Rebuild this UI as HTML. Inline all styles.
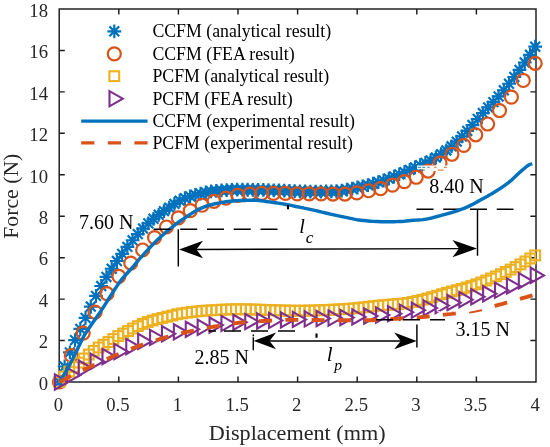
<!DOCTYPE html>
<html lang="en"><head><meta charset="utf-8"><title>Force-displacement curves</title>
<style>html,body{margin:0;padding:0;background:#fff}svg{display:block}</style></head>
<body>
<svg width="550" height="447" viewBox="0 0 550 447">
<rect width="550" height="447" fill="#fff"/>
<defs>
<g id="ast" stroke="#0072BD" stroke-width="2.2" fill="none"><path d="M-6.9 0H6.9M0 -6.9V6.9M-4.9 -4.9L4.9 4.9M-4.9 4.9L4.9 -4.9"/></g>
<circle id="cir" r="6.5" stroke="#D95319" stroke-width="2.2" fill="none"/>
<rect id="sqr" x="-4.9" y="-4.9" width="9.8" height="9.8" stroke="#EDB120" stroke-width="2.1" fill="none"/>
<path id="tri" d="M-4.5 -7.6L8.8 0L-4.5 7.6Z" stroke="#7E2F8E" stroke-width="2.1" fill="none" stroke-linejoin="miter"/>
</defs>
<g stroke="#1c1c1c" stroke-width="1.45" fill="none">
<rect x="59.2" y="9.0" width="476.80" height="373.00"/>
<path d="M118.80 382.0v-5.6M118.80 9.0v5.6M178.40 382.0v-5.6M178.40 9.0v5.6M238.00 382.0v-5.6M238.00 9.0v5.6M297.60 382.0v-5.6M297.60 9.0v5.6M357.20 382.0v-5.6M357.20 9.0v5.6M416.80 382.0v-5.6M416.80 9.0v5.6M476.40 382.0v-5.6M476.40 9.0v5.6M59.2 340.56h5.6M536.0 340.56h-5.6M59.2 299.11h5.6M536.0 299.11h-5.6M59.2 257.67h5.6M536.0 257.67h-5.6M59.2 216.22h5.6M536.0 216.22h-5.6M59.2 174.78h5.6M536.0 174.78h-5.6M59.2 133.33h5.6M536.0 133.33h-5.6M59.2 91.89h5.6M536.0 91.89h-5.6M59.2 50.44h5.6M536.0 50.44h-5.6"/>
</g>
<g><use href="#ast" x="59.40" y="382.00"/><use href="#ast" x="64.63" y="366.51"/><use href="#ast" x="69.86" y="352.43"/><use href="#ast" x="75.09" y="340.06"/><use href="#ast" x="80.31" y="328.96"/><use href="#ast" x="85.54" y="317.93"/><use href="#ast" x="90.77" y="306.55"/><use href="#ast" x="96.00" y="295.87"/><use href="#ast" x="101.23" y="286.01"/><use href="#ast" x="106.46" y="276.96"/><use href="#ast" x="111.69" y="268.75"/><use href="#ast" x="116.91" y="261.02"/><use href="#ast" x="122.14" y="253.81"/><use href="#ast" x="127.37" y="246.85"/><use href="#ast" x="132.60" y="240.26"/><use href="#ast" x="137.83" y="234.14"/><use href="#ast" x="143.06" y="228.55"/><use href="#ast" x="148.29" y="223.40"/><use href="#ast" x="153.51" y="218.80"/><use href="#ast" x="158.74" y="214.78"/><use href="#ast" x="163.97" y="211.14"/><use href="#ast" x="169.20" y="207.61"/><use href="#ast" x="174.43" y="203.90"/><use href="#ast" x="179.66" y="200.56"/><use href="#ast" x="184.89" y="198.24"/><use href="#ast" x="190.11" y="196.42"/><use href="#ast" x="195.34" y="194.89"/><use href="#ast" x="200.57" y="193.60"/><use href="#ast" x="205.80" y="192.46"/><use href="#ast" x="211.03" y="191.45"/><use href="#ast" x="216.26" y="190.83"/><use href="#ast" x="221.49" y="190.40"/><use href="#ast" x="226.71" y="190.05"/><use href="#ast" x="231.94" y="189.80"/><use href="#ast" x="237.17" y="189.70"/><use href="#ast" x="242.40" y="189.71"/><use href="#ast" x="247.63" y="189.74"/><use href="#ast" x="252.86" y="189.79"/><use href="#ast" x="258.09" y="189.86"/><use href="#ast" x="263.31" y="189.93"/><use href="#ast" x="268.54" y="190.08"/><use href="#ast" x="273.77" y="190.28"/><use href="#ast" x="279.00" y="190.48"/><use href="#ast" x="284.23" y="190.67"/><use href="#ast" x="289.46" y="190.88"/><use href="#ast" x="294.69" y="191.10"/><use href="#ast" x="299.91" y="191.30"/><use href="#ast" x="305.14" y="191.46"/><use href="#ast" x="310.37" y="191.55"/><use href="#ast" x="315.60" y="191.56"/><use href="#ast" x="320.83" y="191.53"/><use href="#ast" x="326.06" y="191.48"/><use href="#ast" x="331.29" y="191.41"/><use href="#ast" x="336.51" y="191.25"/><use href="#ast" x="341.74" y="190.66"/><use href="#ast" x="346.97" y="189.71"/><use href="#ast" x="352.20" y="188.59"/><use href="#ast" x="357.43" y="187.49"/><use href="#ast" x="362.66" y="186.36"/><use href="#ast" x="367.89" y="185.10"/><use href="#ast" x="373.11" y="183.70"/><use href="#ast" x="378.34" y="182.19"/><use href="#ast" x="383.57" y="180.49"/><use href="#ast" x="388.80" y="178.59"/><use href="#ast" x="394.03" y="176.55"/><use href="#ast" x="399.26" y="174.44"/><use href="#ast" x="404.49" y="172.23"/><use href="#ast" x="409.71" y="169.87"/><use href="#ast" x="414.94" y="167.46"/><use href="#ast" x="420.17" y="165.09"/><use href="#ast" x="425.40" y="162.92"/><use href="#ast" x="430.63" y="160.48"/><use href="#ast" x="435.86" y="157.51"/><use href="#ast" x="441.09" y="154.19"/><use href="#ast" x="446.31" y="150.47"/><use href="#ast" x="451.54" y="146.30"/><use href="#ast" x="456.77" y="141.62"/><use href="#ast" x="462.00" y="136.45"/><use href="#ast" x="467.23" y="130.96"/><use href="#ast" x="472.46" y="125.05"/><use href="#ast" x="477.69" y="118.98"/><use href="#ast" x="482.91" y="113.03"/><use href="#ast" x="488.14" y="107.47"/><use href="#ast" x="493.37" y="102.12"/><use href="#ast" x="498.60" y="96.47"/><use href="#ast" x="503.83" y="90.26"/><use href="#ast" x="509.06" y="83.77"/><use href="#ast" x="514.29" y="76.99"/><use href="#ast" x="519.51" y="69.91"/><use href="#ast" x="524.74" y="62.52"/><use href="#ast" x="529.97" y="54.79"/><use href="#ast" x="535.20" y="46.71"/></g>
<g><use href="#cir" x="59.40" y="382.00"/><use href="#cir" x="71.30" y="355.48"/><use href="#cir" x="83.19" y="333.10"/><use href="#cir" x="95.09" y="312.17"/><use href="#cir" x="106.98" y="293.72"/><use href="#cir" x="118.88" y="276.32"/><use href="#cir" x="130.77" y="263.05"/><use href="#cir" x="142.67" y="250.00"/><use href="#cir" x="154.56" y="237.57"/><use href="#cir" x="166.46" y="227.00"/><use href="#cir" x="178.35" y="217.88"/><use href="#cir" x="190.25" y="210.63"/><use href="#cir" x="202.14" y="205.24"/><use href="#cir" x="214.04" y="201.30"/><use href="#cir" x="225.93" y="198.19"/><use href="#cir" x="237.83" y="195.29"/><use href="#cir" x="249.72" y="194.05"/><use href="#cir" x="261.62" y="193.43"/><use href="#cir" x="273.51" y="193.43"/><use href="#cir" x="285.41" y="193.43"/><use href="#cir" x="297.30" y="193.84"/><use href="#cir" x="309.20" y="193.84"/><use href="#cir" x="321.09" y="193.84"/><use href="#cir" x="332.99" y="194.05"/><use href="#cir" x="344.88" y="194.05"/><use href="#cir" x="356.78" y="192.81"/><use href="#cir" x="368.67" y="190.73"/><use href="#cir" x="380.57" y="188.66"/><use href="#cir" x="392.46" y="185.14"/><use href="#cir" x="404.36" y="181.62"/><use href="#cir" x="416.25" y="177.26"/><use href="#cir" x="428.15" y="171.05"/><use href="#cir" x="440.04" y="163.17"/><use href="#cir" x="451.94" y="154.26"/><use href="#cir" x="463.83" y="145.35"/><use href="#cir" x="475.73" y="134.78"/><use href="#cir" x="487.62" y="124.01"/><use href="#cir" x="499.52" y="110.54"/><use href="#cir" x="511.41" y="97.07"/><use href="#cir" x="523.31" y="80.49"/><use href="#cir" x="535.20" y="63.29"/></g>
<g><use href="#sqr" x="59.40" y="382.00"/><use href="#sqr" x="64.31" y="376.63"/><use href="#sqr" x="69.21" y="371.59"/><use href="#sqr" x="74.12" y="366.94"/><use href="#sqr" x="79.02" y="362.61"/><use href="#sqr" x="83.93" y="358.47"/><use href="#sqr" x="88.83" y="354.52"/><use href="#sqr" x="93.74" y="350.81"/><use href="#sqr" x="98.64" y="347.46"/><use href="#sqr" x="103.55" y="344.72"/><use href="#sqr" x="108.45" y="342.05"/><use href="#sqr" x="113.36" y="339.02"/><use href="#sqr" x="118.26" y="336.09"/><use href="#sqr" x="123.17" y="333.54"/><use href="#sqr" x="128.07" y="331.07"/><use href="#sqr" x="132.98" y="328.49"/><use href="#sqr" x="137.88" y="326.09"/><use href="#sqr" x="142.79" y="323.92"/><use href="#sqr" x="147.69" y="322.01"/><use href="#sqr" x="152.60" y="320.47"/><use href="#sqr" x="157.50" y="319.16"/><use href="#sqr" x="162.41" y="317.90"/><use href="#sqr" x="167.31" y="316.70"/><use href="#sqr" x="172.22" y="315.53"/><use href="#sqr" x="177.12" y="314.28"/><use href="#sqr" x="182.03" y="313.42"/><use href="#sqr" x="186.93" y="312.68"/><use href="#sqr" x="191.84" y="312.03"/><use href="#sqr" x="196.74" y="311.46"/><use href="#sqr" x="201.65" y="310.99"/><use href="#sqr" x="206.55" y="310.61"/><use href="#sqr" x="211.46" y="310.30"/><use href="#sqr" x="216.36" y="310.01"/><use href="#sqr" x="221.27" y="309.74"/><use href="#sqr" x="226.18" y="309.52"/><use href="#sqr" x="231.08" y="309.35"/><use href="#sqr" x="235.99" y="309.27"/><use href="#sqr" x="240.89" y="309.28"/><use href="#sqr" x="245.80" y="309.34"/><use href="#sqr" x="250.70" y="309.44"/><use href="#sqr" x="255.61" y="309.58"/><use href="#sqr" x="260.51" y="309.74"/><use href="#sqr" x="265.42" y="309.91"/><use href="#sqr" x="270.32" y="310.09"/><use href="#sqr" x="275.23" y="310.26"/><use href="#sqr" x="280.13" y="310.42"/><use href="#sqr" x="285.04" y="310.56"/><use href="#sqr" x="289.94" y="310.65"/><use href="#sqr" x="294.85" y="310.71"/><use href="#sqr" x="299.75" y="310.71"/><use href="#sqr" x="304.66" y="310.66"/><use href="#sqr" x="309.56" y="310.56"/><use href="#sqr" x="314.47" y="310.43"/><use href="#sqr" x="319.37" y="310.26"/><use href="#sqr" x="324.28" y="310.06"/><use href="#sqr" x="329.18" y="309.85"/><use href="#sqr" x="334.09" y="309.62"/><use href="#sqr" x="338.99" y="309.38"/><use href="#sqr" x="343.90" y="309.12"/><use href="#sqr" x="348.80" y="308.78"/><use href="#sqr" x="353.71" y="308.35"/><use href="#sqr" x="358.61" y="307.86"/><use href="#sqr" x="363.52" y="307.33"/><use href="#sqr" x="368.42" y="306.78"/><use href="#sqr" x="373.33" y="306.23"/><use href="#sqr" x="378.24" y="305.70"/><use href="#sqr" x="383.14" y="305.21"/><use href="#sqr" x="388.05" y="304.79"/><use href="#sqr" x="392.95" y="304.42"/><use href="#sqr" x="397.86" y="304.04"/><use href="#sqr" x="402.76" y="303.58"/><use href="#sqr" x="407.67" y="302.95"/><use href="#sqr" x="412.57" y="301.99"/><use href="#sqr" x="417.48" y="300.91"/><use href="#sqr" x="422.38" y="299.76"/><use href="#sqr" x="427.29" y="298.51"/><use href="#sqr" x="432.19" y="297.17"/><use href="#sqr" x="437.10" y="295.73"/><use href="#sqr" x="442.00" y="294.26"/><use href="#sqr" x="446.91" y="292.84"/><use href="#sqr" x="451.81" y="291.51"/><use href="#sqr" x="456.72" y="290.21"/><use href="#sqr" x="461.62" y="288.90"/><use href="#sqr" x="466.53" y="287.52"/><use href="#sqr" x="471.43" y="286.01"/><use href="#sqr" x="476.34" y="284.31"/><use href="#sqr" x="481.24" y="282.45"/><use href="#sqr" x="486.15" y="280.51"/><use href="#sqr" x="491.05" y="278.48"/><use href="#sqr" x="495.96" y="276.35"/><use href="#sqr" x="500.86" y="274.16"/><use href="#sqr" x="505.77" y="271.92"/><use href="#sqr" x="510.67" y="269.59"/><use href="#sqr" x="515.58" y="267.09"/><use href="#sqr" x="520.48" y="264.35"/><use href="#sqr" x="525.39" y="261.45"/><use href="#sqr" x="530.29" y="258.48"/><use href="#sqr" x="535.20" y="255.39"/></g>
<g><use href="#tri" x="59.40" y="382.00"/><use href="#tri" x="71.30" y="375.16"/><use href="#tri" x="83.19" y="368.12"/><use href="#tri" x="95.09" y="361.28"/><use href="#tri" x="106.98" y="356.51"/><use href="#tri" x="118.88" y="351.54"/><use href="#tri" x="130.77" y="346.56"/><use href="#tri" x="142.67" y="341.38"/><use href="#tri" x="154.56" y="337.45"/><use href="#tri" x="166.46" y="333.72"/><use href="#tri" x="178.35" y="331.85"/><use href="#tri" x="190.25" y="329.37"/><use href="#tri" x="202.14" y="327.29"/><use href="#tri" x="214.04" y="325.12"/><use href="#tri" x="225.93" y="323.46"/><use href="#tri" x="237.83" y="322.32"/><use href="#tri" x="249.72" y="321.59"/><use href="#tri" x="261.62" y="320.99"/><use href="#tri" x="273.51" y="320.45"/><use href="#tri" x="285.41" y="319.93"/><use href="#tri" x="297.30" y="319.42"/><use href="#tri" x="309.20" y="318.94"/><use href="#tri" x="321.09" y="318.51"/><use href="#tri" x="332.99" y="318.07"/><use href="#tri" x="344.88" y="317.56"/><use href="#tri" x="356.78" y="316.93"/><use href="#tri" x="368.67" y="316.08"/><use href="#tri" x="380.57" y="314.97"/><use href="#tri" x="392.46" y="313.66"/><use href="#tri" x="404.36" y="312.17"/><use href="#tri" x="416.25" y="310.20"/><use href="#tri" x="428.15" y="308.02"/><use href="#tri" x="440.04" y="305.54"/><use href="#tri" x="451.94" y="302.63"/><use href="#tri" x="463.83" y="299.63"/><use href="#tri" x="475.73" y="296.73"/><use href="#tri" x="487.62" y="293.72"/><use href="#tri" x="499.52" y="290.20"/><use href="#tri" x="511.41" y="285.95"/><use href="#tri" x="523.31" y="280.77"/><use href="#tri" x="535.20" y="275.38"/></g>
<path d="M416.5 209.3H513.5" stroke="#000" stroke-width="1.45" fill="none" stroke-dasharray="17 9.75"/>
<path d="M59.40 382.00L61.78 378.27L64.15 374.35L66.53 370.27L68.90 366.04L71.28 361.63L73.66 356.96L76.03 352.14L78.41 347.30L80.78 342.35L83.16 337.43L85.54 333.25L87.91 329.69L90.29 326.23L92.66 322.80L95.04 319.43L97.42 316.06L99.79 312.64L102.17 309.09L104.54 305.37L106.92 301.55L109.30 297.74L111.67 294.06L114.05 290.44L116.42 286.85L118.80 283.38L121.18 280.14L123.55 277.20L125.93 274.51L128.30 271.96L130.68 269.41L133.06 266.75L135.43 263.89L137.81 260.97L140.18 258.23L142.56 255.55L144.94 252.91L147.31 250.31L149.69 247.76L152.06 245.28L154.44 242.86L156.82 240.52L159.19 238.26L161.57 236.09L163.94 233.98L166.32 231.92L168.70 229.91L171.07 227.96L173.45 226.07L175.82 224.24L178.20 222.47L180.58 220.78L182.95 219.16L185.33 217.56L187.70 215.97L190.08 214.41L192.46 212.90L194.83 211.46L197.21 210.12L199.58 208.88L201.96 207.78L204.34 206.83L206.71 206.00L209.09 205.25L211.46 204.59L213.84 204.03L216.22 203.54L218.59 203.08L220.97 202.63L223.34 202.21L225.72 201.82L228.10 201.47L230.47 201.17L232.85 200.92L235.22 200.75L237.60 200.64L239.98 200.56L242.35 200.48L244.73 200.41L247.10 200.35L249.48 200.31L251.86 200.28L254.23 200.27L256.61 200.33L258.98 200.51L261.36 200.79L263.74 201.12L266.11 201.47L268.49 201.81L270.87 202.12L273.24 202.43L275.62 202.75L277.99 203.09L280.37 203.45L282.75 203.83L285.12 204.24L287.50 204.69L289.87 205.17L292.25 205.68L294.63 206.19L297.00 206.69L299.38 207.18L301.75 207.66L304.13 208.13L306.51 208.60L308.88 209.08L311.26 209.58L313.63 210.10L316.01 210.64L318.39 211.21L320.76 211.80L323.14 212.38L325.51 212.96L327.89 213.52L330.27 214.08L332.64 214.64L335.02 215.16L337.39 215.66L339.77 216.14L342.15 216.62L344.52 217.10L346.90 217.60L349.27 218.13L351.65 218.65L354.03 219.15L356.40 219.59L358.78 219.95L361.15 220.26L363.53 220.55L365.91 220.82L368.28 221.05L370.66 221.24L373.03 221.38L375.41 221.49L377.79 221.59L380.16 221.68L382.54 221.75L384.91 221.80L387.29 221.82L389.67 221.81L392.04 221.77L394.42 221.71L396.79 221.64L399.17 221.55L401.55 221.44L403.92 221.31L406.30 221.06L408.67 220.75L411.05 220.47L413.43 220.28L415.80 220.14L418.18 220.00L420.55 219.85L422.93 219.61L425.31 219.28L427.68 218.84L430.06 218.32L432.43 217.75L434.81 217.12L437.19 216.48L439.56 215.82L441.94 215.18L444.31 214.56L446.69 213.92L449.07 213.25L451.44 212.55L453.82 211.82L456.19 211.07L458.57 210.29L460.95 209.48L463.32 208.61L465.70 207.65L468.07 206.58L470.45 205.41L472.83 204.18L475.20 202.90L477.58 201.61L479.95 200.33L482.33 199.04L484.71 197.74L487.08 196.41L489.46 195.05L491.83 193.65L494.21 192.20L496.59 190.74L498.96 189.24L501.34 187.69L503.71 186.09L506.09 184.40L508.47 182.63L510.84 180.68L513.22 178.56L515.59 176.33L517.97 174.07L520.35 171.86L522.72 169.79L525.10 167.75L527.47 165.85L529.85 164.50L532.23 163.59" stroke="#0072BD" stroke-width="3.45" fill="none" stroke-linejoin="round" stroke-linecap="butt"/>
<path d="M59.40 382.00L61.79 380.76L64.18 379.54L66.57 378.32L68.96 377.11L71.35 375.91L73.75 374.71L76.14 373.53L78.53 372.35L80.92 371.19L83.31 370.03L85.70 368.88L88.09 367.74L90.48 366.61L92.87 365.48L95.26 364.36L97.66 363.25L100.05 362.15L102.44 361.05L104.83 359.97L107.22 358.91L109.61 357.85L112.00 356.81L114.39 355.78L116.78 354.75L119.17 353.73L121.56 352.72L123.96 351.73L126.35 350.75L128.74 349.78L131.13 348.85L133.52 347.93L135.91 347.05L138.30 346.18L140.69 345.33L143.08 344.49L145.47 343.66L147.87 342.85L150.26 342.06L152.65 341.28L155.04 340.51L157.43 339.77L159.82 339.04L162.21 338.33L164.60 337.64L166.99 336.97L169.38 336.31L171.77 335.68L174.17 335.05L176.56 334.45L178.95 333.86L181.34 333.30L183.73 332.75L186.12 332.21L188.51 331.68L190.90 331.16L193.29 330.65L195.68 330.16L198.08 329.67L200.47 329.19L202.86 328.72L205.25 328.26L207.64 327.81L210.03 327.38L212.42 326.95L214.81 326.54L217.20 326.12L219.59 325.71L221.98 325.30L224.38 324.89L226.77 324.50L229.16 324.11L231.55 323.75L233.94 323.41L236.33 323.09L238.72 322.80L241.11 322.55L243.50 322.33L245.89 322.13L248.29 321.93L250.68 321.75L253.07 321.58L255.46 321.42L257.85 321.27L260.24 321.13L262.63 321.00L265.02 320.88L267.41 320.75L269.80 320.63L272.19 320.50L274.59 320.37L276.98 320.25L279.37 320.14L281.76 320.04L284.15 319.95L286.54 319.89L288.93 319.85L291.32 319.83L293.71 319.84L296.10 319.84L298.50 319.86L300.89 319.87L303.28 319.89L305.67 319.92L308.06 319.94L310.45 319.97L312.84 320.00L315.23 320.03L317.62 320.06L320.01 320.09L322.41 320.11L324.80 320.14L327.19 320.17L329.58 320.19L331.97 320.21L334.36 320.23L336.75 320.24L339.14 320.25L341.53 320.25L343.92 320.25L346.31 320.25L348.71 320.25L351.10 320.25L353.49 320.25L355.88 320.25L358.27 320.25L360.66 320.25L363.05 320.25L365.44 320.25L367.83 320.25L370.22 320.24L372.62 320.19L375.01 320.10L377.40 319.99L379.79 319.85L382.18 319.69L384.57 319.52L386.96 319.34L389.35 319.17L391.74 319.00L394.13 318.84L396.52 318.70L398.92 318.56L401.31 318.42L403.70 318.27L406.09 318.13L408.48 317.98L410.87 317.83L413.26 317.68L415.65 317.52L418.04 317.35L420.43 317.17L422.83 316.98L425.22 316.78L427.61 316.55L430.00 316.32L432.39 316.06L434.78 315.80L437.17 315.53L439.56 315.24L441.95 314.96L444.34 314.67L446.73 314.37L449.13 314.08L451.52 313.80L453.91 313.51L456.30 313.23L458.69 312.95L461.08 312.65L463.47 312.35L465.86 312.04L468.25 311.70L470.64 311.35L473.04 310.97L475.43 310.56L477.82 310.10L480.21 309.58L482.60 309.03L484.99 308.44L487.38 307.83L489.77 307.20L492.16 306.56L494.55 305.91L496.94 305.28L499.34 304.65L501.73 304.01L504.12 303.36L506.51 302.70L508.90 302.03L511.29 301.36L513.68 300.67L516.07 299.99L518.46 299.30L520.85 298.62L523.25 297.94L525.64 297.26L528.03 296.58L530.42 295.91L532.81 295.23L535.20 294.55" stroke="#D95319" stroke-width="3.9" fill="none" stroke-dasharray="13 13.3"/>
<use href="#ast" x="114.3" y="31.3"/>
<use href="#cir" x="114.3" y="53.9"/>
<use href="#sqr" x="114.3" y="76.2"/>
<use href="#tri" x="114.0" y="98.7"/>
<path d="M81.2 121.1H147.6" stroke="#0072BD" stroke-width="3.3"/>
<path d="M81.2 142.9H147.6" stroke="#D95319" stroke-width="3.3" stroke-dasharray="13.2 13.4"/>
<g font-family="'Liberation Serif', 'Times New Roman', serif" fill="#000">
<g font-size="17.8px">
<text x="152.4" y="37.4">CCFM (analytical result)</text>
<text x="152.4" y="59.6">CCFM (FEA result)</text>
<text x="152.4" y="82.1">PCFM (analytical result)</text>
<text x="152.4" y="104.7">PCFM (FEA result)</text>
<text x="152.4" y="127.3">CCFM (experimental result)</text>
<text x="152.4" y="149.2">PCFM (experimental result)</text>
</g>
<g font-size="18.7px">
<g fill="#262626">
<text x="58.30" y="411.3" text-anchor="middle">0</text>
<text x="117.90" y="411.3" text-anchor="middle">0.5</text>
<text x="177.50" y="411.3" text-anchor="middle">1</text>
<text x="237.10" y="411.3" text-anchor="middle">1.5</text>
<text x="296.70" y="411.3" text-anchor="middle">2</text>
<text x="356.30" y="411.3" text-anchor="middle">2.5</text>
<text x="415.90" y="411.3" text-anchor="middle">3</text>
<text x="475.50" y="411.3" text-anchor="middle">3.5</text>
<text x="535.10" y="411.3" text-anchor="middle">4</text>
<text x="48.0" y="389.80" text-anchor="end">0</text>
<text x="48.0" y="348.36" text-anchor="end">2</text>
<text x="48.0" y="306.91" text-anchor="end">4</text>
<text x="48.0" y="265.47" text-anchor="end">6</text>
<text x="48.0" y="224.02" text-anchor="end">8</text>
<text x="48.0" y="182.58" text-anchor="end">10</text>
<text x="48.0" y="141.13" text-anchor="end">12</text>
<text x="48.0" y="99.69" text-anchor="end">14</text>
<text x="48.0" y="58.24" text-anchor="end">16</text>
<text x="48.0" y="16.80" text-anchor="end">18</text>
</g>
<g font-size="20px">
<text x="79" y="229">7.60 N</text>
<text x="429.3" y="193.2">8.40 N</text>
<text x="194.6" y="364.1">2.85 N</text>
<text x="455.6" y="335.8">3.15 N</text>
</g>
</g>
<g font-size="21.8px" fill="#262626">
<text x="208.8" y="439.5" textLength="176.8" lengthAdjust="spacingAndGlyphs">Displacement (mm)</text>
<text transform="translate(17.8 238.7) rotate(-90)" textLength="85" lengthAdjust="spacingAndGlyphs">Force (N)</text>
</g>
<g font-style="italic">
<text x="299.3" y="232.8" font-size="20.2px">l</text><text x="305.8" y="242.6" font-size="17.3px">c</text>
<text x="326.7" y="360.8" font-size="21px">l</text><text x="334.2" y="370.4" font-size="15.6px">p</text>
</g>
</g>
<g stroke="#000" stroke-width="1.45" fill="none">
<path d="M153.5 229.2H277.5" stroke-dasharray="17 9.75"/>
<path d="M208.5 331H216M224 331H241M251 331H268M278 331H295"/>
<path d="M376 319.7H445" stroke-dasharray="17 10"/>
<path d="M178.3 229.3V266.5M477.5 209.8V255.8M253.3 337.3V350.2M253.3 334.6V336.2M416.9 324.5V347.5"/>
<path d="M190 249.5L466 248.6M264 340.9H405"/>
<path d="M288 205V209.2M316.5 333.5V337.8" stroke-width="2.1"/>
</g>
<path d="M179.0 249.5L203.0 240.8L196.4 249.5L203.0 258.2Z" fill="#000"/>
<path d="M477.0 248.6L452.4 239.9L459.0 248.6L452.4 257.3Z" fill="#000"/>
<path d="M253.6 340.9L276.1 332.5L269.5 340.9L276.1 349.29999999999995Z" fill="#000"/>
<path d="M416.7 340.9L394.2 332.5L400.8 340.9L394.2 349.29999999999995Z" fill="#000"/>
<path d="M417 165.6H447.5V169.2H445V170.9H423V169.2H417Z" fill="#fff"/>
<path d="M417.8 167.3H421M422.3 167.3H425.2M427.6 167.3H429.7M422.3 170.1H424.8" stroke="#0072BD" stroke-width="0.9" fill="none"/>
<path d="M434.2 167.3H436.6M444 167.3H446.9M437.9 170.1H443.6" stroke="#D95319" stroke-width="0.9" fill="none"/>
<path d="M467.8 307.0L482.6 304.0L482.6 309.1L468.1 312.0Z" fill="#fff"/>
<path d="M437.3 311.8H440.2M443.8 311.8H446.7M448.2 311.6H451.8M453.3 311.2H455.5" stroke="#fff" stroke-width="1.1" fill="none"/>
</svg>
</body></html>
